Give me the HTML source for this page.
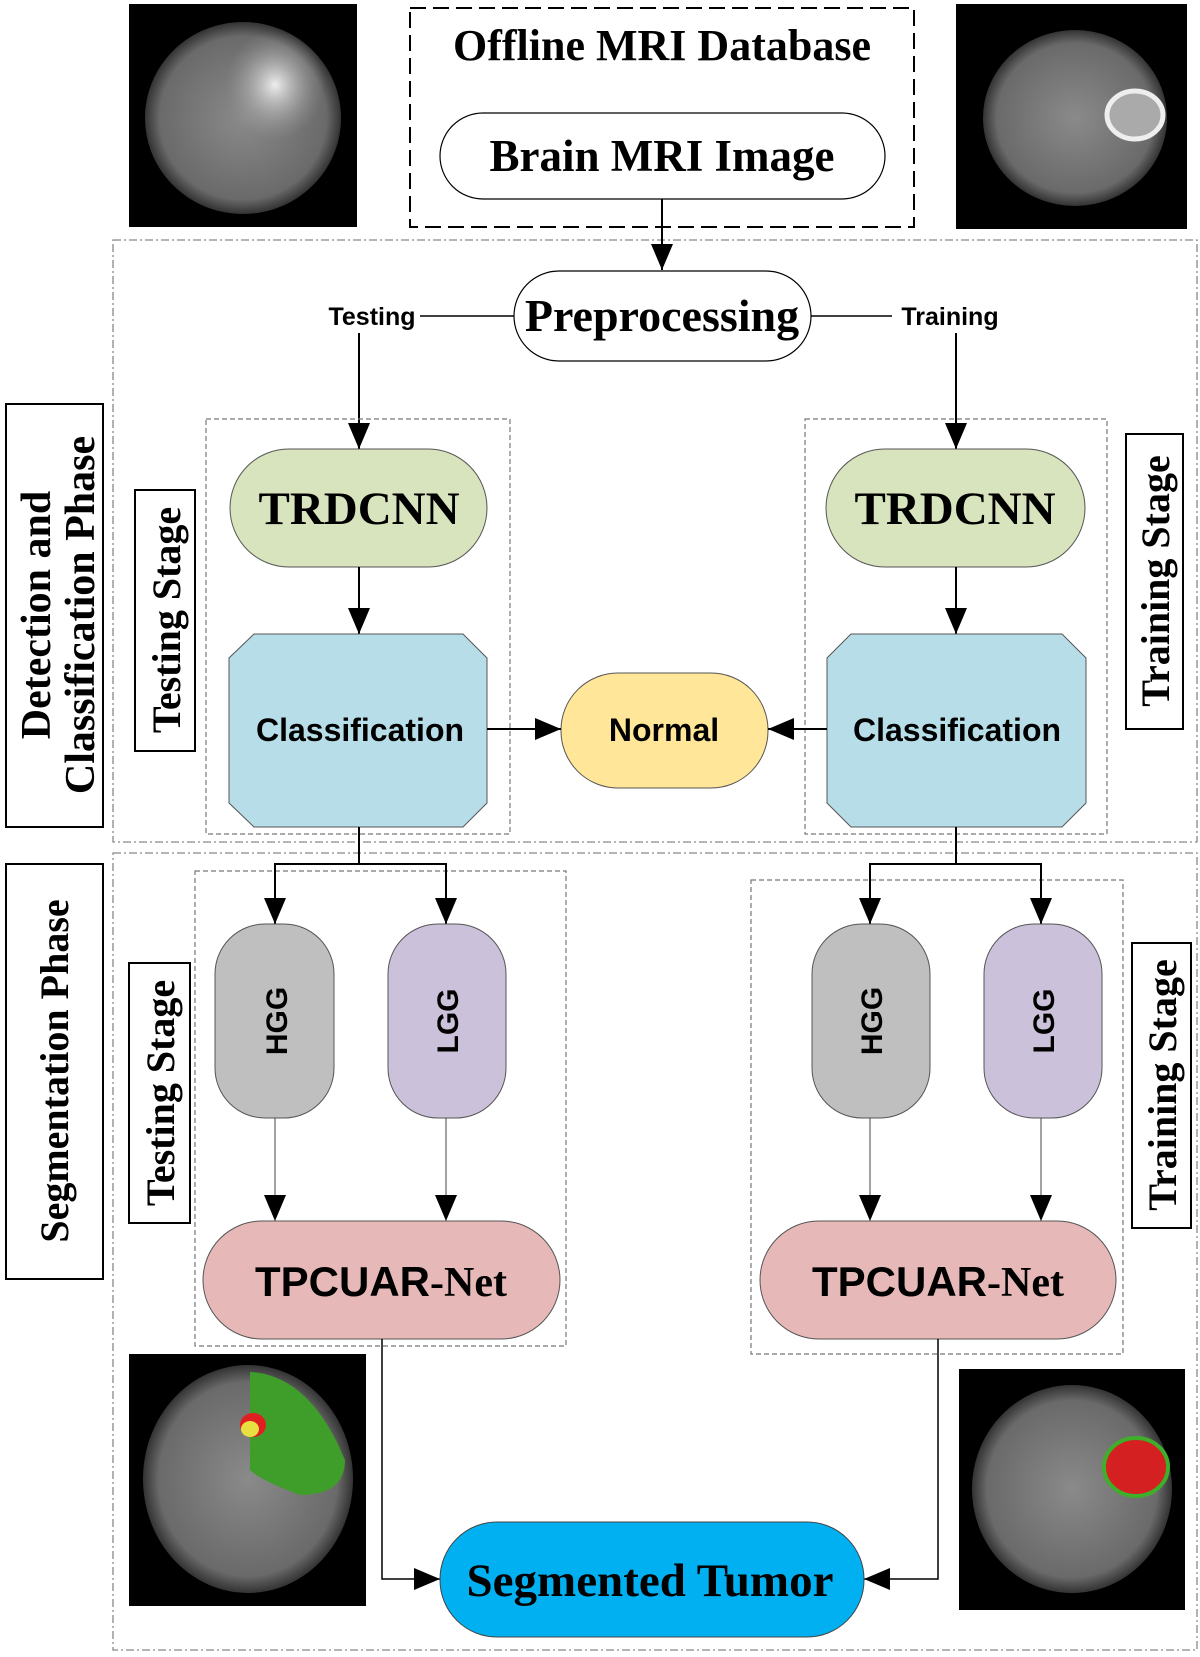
<!DOCTYPE html>
<html><head><meta charset="utf-8"><style>html,body{margin:0;padding:0;background:#fff}svg{display:block}</style></head>
<body>
<svg width="1200" height="1657" viewBox="0 0 1200 1657" xmlns="http://www.w3.org/2000/svg">
<defs>
<marker id="ah" markerWidth="26" markerHeight="22" refX="26" refY="11" orient="auto" markerUnits="userSpaceOnUse" viewBox="0 0 26 22"><path d="M0,0 L26,11 L0,22 z" fill="#000"/></marker>
<radialGradient id="brain" cx="50%" cy="50%" r="50%"><stop offset="0" stop-color="#8a8a8a"/><stop offset="0.85" stop-color="#6a6a6a"/><stop offset="1" stop-color="#333"/></radialGradient>
<radialGradient id="glow" cx="50%" cy="50%" r="50%"><stop offset="0" stop-color="#eee"/><stop offset="1" stop-color="#999" stop-opacity="0"/></radialGradient>
</defs>
<style>
.ser{font-family:"Liberation Serif",serif;font-weight:bold}
.san{font-family:"Liberation Sans","DejaVu Sans",sans-serif;font-weight:bold}
</style>
<!-- brain images -->
<rect x="129" y="4" width="228" height="223" fill="#000"/>
<ellipse cx="243" cy="118" rx="98" ry="96" fill="url(#brain)"/>
<ellipse cx="275" cy="85" rx="50" ry="55" fill="url(#glow)"/>
<rect x="956" y="4" width="231" height="225" fill="#000"/>
<ellipse cx="1075" cy="118" rx="92" ry="88" fill="url(#brain)"/>
<ellipse cx="1135" cy="115" rx="28" ry="24" fill="#aaa" stroke="#eee" stroke-width="5"/>
<rect x="129" y="1354" width="237" height="252" fill="#000"/>
<ellipse cx="248" cy="1479" rx="105" ry="114" fill="url(#brain)"/>
<path d="M250,1372 Q310,1375 345,1460 Q345,1495 300,1495 Q260,1480 250,1470 Z" fill="#3f9d2a"/>
<ellipse cx="253" cy="1425" rx="13" ry="12" fill="#e02020"/>
<ellipse cx="250" cy="1429" rx="9" ry="8" fill="#e8e040"/>
<rect x="959" y="1369" width="226" height="241" fill="#000"/>
<ellipse cx="1072" cy="1489" rx="100" ry="104" fill="url(#brain)"/>
<ellipse cx="1136" cy="1467" rx="32" ry="29" fill="#d42020" stroke="#3fae2a" stroke-width="4"/>

<!-- top dashed box -->
<rect x="410" y="8" width="504" height="219" fill="none" stroke="#000" stroke-width="2" stroke-dasharray="16,7"/>
<text x="662" y="60" class="ser" font-size="44" text-anchor="middle">Offline MRI Database</text>
<rect x="440" y="113" width="445" height="86" rx="43" fill="#fff" stroke="#000" stroke-width="1.2"/>
<text x="662" y="171" class="ser" font-size="45" text-anchor="middle">Brain MRI Image</text>

<!-- outer boxes -->
<rect x="113" y="240" width="1084" height="602" fill="none" stroke="#888" stroke-width="1.3" stroke-dasharray="8,3,2,3"/>
<rect x="113" y="853" width="1084" height="797" fill="none" stroke="#888" stroke-width="1.3" stroke-dasharray="8,3,2,3"/>

<line x1="662" y1="199" x2="662" y2="270" stroke="#000" stroke-width="2" marker-end="url(#ah)"/>
<rect x="514" y="271" width="297" height="90" rx="45" fill="#fff" stroke="#000" stroke-width="1.2"/>
<text x="662" y="331" class="ser" font-size="46" text-anchor="middle">Preprocessing</text>
<text x="372" y="325" class="san" font-size="25" text-anchor="middle">Testing</text>
<text x="950" y="325" class="san" font-size="25" text-anchor="middle">Training</text>
<line x1="420" y1="316" x2="514" y2="316" stroke="#000" stroke-width="1.5"/>
<line x1="811" y1="316" x2="892" y2="316" stroke="#000" stroke-width="1.5"/>
<line x1="359" y1="333" x2="359" y2="449" stroke="#000" stroke-width="2" marker-end="url(#ah)"/>
<line x1="956" y1="333" x2="956" y2="449" stroke="#000" stroke-width="2" marker-end="url(#ah)"/>

<!-- stage dashed boxes -->
<rect x="206" y="419" width="304" height="415" fill="none" stroke="#777" stroke-width="1.2" stroke-dasharray="5,3"/>
<rect x="805" y="419" width="302" height="415" fill="none" stroke="#777" stroke-width="1.2" stroke-dasharray="5,3"/>

<rect x="230" y="449" width="257" height="118" rx="59" fill="#d7e4bd" stroke="#555"/>
<text x="359" y="524" class="ser" font-size="47" text-anchor="middle">TRDCNN</text>
<rect x="826" y="449" width="259" height="118" rx="59" fill="#d7e4bd" stroke="#555"/>
<text x="955" y="524" class="ser" font-size="47" text-anchor="middle">TRDCNN</text>
<line x1="359" y1="567" x2="359" y2="634" stroke="#000" stroke-width="2" marker-end="url(#ah)"/>
<line x1="956" y1="567" x2="956" y2="634" stroke="#000" stroke-width="2" marker-end="url(#ah)"/>

<polygon points="254,634 463,634 487,658 487,803 463,827 254,827 229,803 229,658" fill="#b7dde8" stroke="#555"/>
<text x="360" y="741" class="san" font-size="32" text-anchor="middle">Classification</text>
<polygon points="851,634 1062,634 1086,658 1086,803 1062,827 851,827 827,803 827,658" fill="#b7dde8" stroke="#555"/>
<text x="957" y="741" class="san" font-size="32" text-anchor="middle">Classification</text>

<rect x="561" y="673" width="207" height="115" rx="57" fill="#ffe699" stroke="#555"/>
<text x="664" y="741" class="san" font-size="32" text-anchor="middle">Normal</text>
<line x1="487" y1="729" x2="561" y2="729" stroke="#000" stroke-width="2" marker-end="url(#ah)"/>
<line x1="827" y1="729" x2="768" y2="729" stroke="#000" stroke-width="2" marker-end="url(#ah)"/>

<!-- labels -->
<rect x="6" y="404" width="97" height="423" fill="#fff" stroke="#000" stroke-width="2"/>
<text transform="translate(50,615) rotate(-90)" class="ser" font-size="42" text-anchor="middle">Detection and</text>
<text transform="translate(94,615) rotate(-90)" class="ser" font-size="42" text-anchor="middle">Classification Phase</text>
<rect x="135" y="490" width="60" height="261" fill="#fff" stroke="#000" stroke-width="2"/>
<text transform="translate(180,620) rotate(-90)" class="ser" font-size="40" text-anchor="middle">Testing Stage</text>
<rect x="1126" y="434" width="57" height="295" fill="#fff" stroke="#000" stroke-width="2"/>
<text transform="translate(1169,581) rotate(-90)" class="ser" font-size="40" text-anchor="middle">Training Stage</text>

<rect x="6" y="864" width="97" height="415" fill="#fff" stroke="#000" stroke-width="2"/>
<text transform="translate(68,1071) rotate(-90)" class="ser" font-size="40" text-anchor="middle">Segmentation Phase</text>
<rect x="129" y="963" width="61" height="260" fill="#fff" stroke="#000" stroke-width="2"/>
<text transform="translate(174,1093) rotate(-90)" class="ser" font-size="40" text-anchor="middle">Testing Stage</text>
<rect x="1132" y="943" width="59" height="285" fill="#fff" stroke="#000" stroke-width="2"/>
<text transform="translate(1176,1085) rotate(-90)" class="ser" font-size="40" text-anchor="middle">Training Stage</text>

<!-- segmentation -->
<rect x="195" y="871" width="371" height="475" fill="none" stroke="#777" stroke-width="1.2" stroke-dasharray="5,3"/>
<rect x="751" y="880" width="372" height="474" fill="none" stroke="#777" stroke-width="1.2" stroke-dasharray="5,3"/>

<polyline points="359,827 359,864" fill="none" stroke="#000" stroke-width="2"/>
<polyline points="275,900 275,864 446,864 446,900" fill="none" stroke="#000" stroke-width="2"/>
<line x1="275" y1="890" x2="275" y2="924" stroke="#000" stroke-width="2" marker-end="url(#ah)"/>
<line x1="446" y1="890" x2="446" y2="924" stroke="#000" stroke-width="2" marker-end="url(#ah)"/>
<polyline points="956,827 956,864" fill="none" stroke="#000" stroke-width="2"/>
<polyline points="870,900 870,864 1041,864 1041,900" fill="none" stroke="#000" stroke-width="2"/>
<line x1="870" y1="890" x2="870" y2="924" stroke="#000" stroke-width="2" marker-end="url(#ah)"/>
<line x1="1041" y1="890" x2="1041" y2="924" stroke="#000" stroke-width="2" marker-end="url(#ah)"/>

<rect x="215" y="924" width="119" height="194" rx="50" fill="#bfbfbf" stroke="#555"/>
<text transform="translate(287,1021) rotate(-90)" class="san" font-size="30" text-anchor="middle">HGG</text>
<rect x="388" y="924" width="118" height="194" rx="50" fill="#ccc1da" stroke="#555"/>
<text transform="translate(458,1021) rotate(-90)" class="san" font-size="30" text-anchor="middle">LGG</text>
<rect x="812" y="924" width="118" height="194" rx="50" fill="#bfbfbf" stroke="#555"/>
<text transform="translate(882,1021) rotate(-90)" class="san" font-size="30" text-anchor="middle">HGG</text>
<rect x="984" y="924" width="118" height="194" rx="50" fill="#ccc1da" stroke="#555"/>
<text transform="translate(1054,1021) rotate(-90)" class="san" font-size="30" text-anchor="middle">LGG</text>

<line x1="275" y1="1118" x2="275" y2="1221" stroke="#444" stroke-width="1" marker-end="url(#ah)"/>
<line x1="446" y1="1118" x2="446" y2="1221" stroke="#444" stroke-width="1" marker-end="url(#ah)"/>
<line x1="870" y1="1118" x2="870" y2="1221" stroke="#444" stroke-width="1" marker-end="url(#ah)"/>
<line x1="1041" y1="1118" x2="1041" y2="1221" stroke="#444" stroke-width="1" marker-end="url(#ah)"/>

<rect x="203" y="1221" width="357" height="118" rx="59" fill="#e6b9b8" stroke="#555"/>
<text x="381" y="1296" text-anchor="middle" font-size="42"><tspan class="san">TPCUAR</tspan><tspan class="ser">-Net</tspan></text>
<rect x="760" y="1221" width="356" height="118" rx="59" fill="#e6b9b8" stroke="#555"/>
<text x="938" y="1296" text-anchor="middle" font-size="42"><tspan class="san">TPCUAR</tspan><tspan class="ser">-Net</tspan></text>

<polyline points="382,1339 382,1579 440,1579" fill="none" stroke="#000" stroke-width="1.5" marker-end="url(#ah)"/>
<polyline points="938,1339 938,1579 864,1579" fill="none" stroke="#000" stroke-width="1.5" marker-end="url(#ah)"/>
<rect x="440" y="1522" width="424" height="115" rx="57" fill="#00b0f0" stroke="#444"/>
<text x="650" y="1596" class="ser" font-size="47" text-anchor="middle">Segmented Tumor</text>
</svg>
</body></html>
